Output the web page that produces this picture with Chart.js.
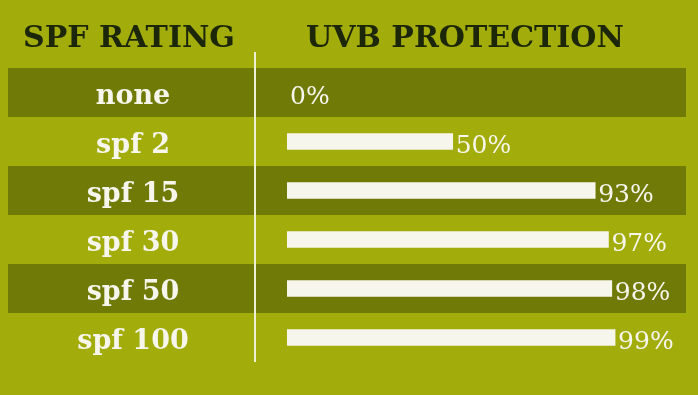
<!DOCTYPE html>
<html>
<head>
<meta charset="utf-8">
<script src="https://cdn.jsdelivr.net/npm/chart.js@4"></script>
<style>
  body { margin: 0; background: #a2ad0b; }
  #wrap { width: 698px; height: 395px; position: relative; }
</style>
</head>
<body>
<div id="wrap"><canvas id="uvb"></canvas></div>
<script>
const ratings = ['none', 'spf 2', 'spf 15', 'spf 30', 'spf 50', 'spf 100'];
const protection = [0, 50, 93, 97, 98, 99];
const headers = ['SPF RATING', 'UVB PROTECTION'];

const bg = '#a2ad0b';
const band = '#707b07';
const ink = '#1c270a';
const cream = '#f6f6ec';

// bands, header, divider and the text labels
const tablePlugin = {
    id: 'table',
    beforeDraw(chart) {
        const c = chart.ctx;
        const y = chart.scales.y;
        const step = y.getPixelForValue(1) - y.getPixelForValue(0);
        c.save();
        c.fillStyle = bg;
        c.fillRect(0, 0, chart.width, chart.height);
        ratings.forEach((r, i) => {
            if (i % 2 === 0) {
                const cy = y.getPixelForValue(i);
                c.fillStyle = band;
                c.fillRect(8, cy - step / 2, 678, step);
            }
        });
        // header
        c.fillStyle = ink;
        c.font = 'bold 30px "DejaVu Serif"';
        c.textAlign = 'center';
        c.textBaseline = 'alphabetic';
        c.fillText(headers[0], 129, 47);
        c.fillText(headers[1], 465, 47);
        // divider
        c.strokeStyle = '#eef0d4';
        c.lineWidth = 2;
        c.beginPath();
        c.moveTo(255, 52);
        c.lineTo(255, y.getPixelForValue(ratings.length - 1) + step / 2);
        c.stroke();
        // category labels
        c.fillStyle = cream;
        c.font = 'bold 27px "DejaVu Serif"';
        ratings.forEach((r, i) => {
            c.fillText(r, 133, y.getPixelForValue(i) + 11);
        });
        c.restore();
    },
    afterDatasetsDraw(chart) {
        const c = chart.ctx;
        const meta = chart.getDatasetMeta(0);
        c.save();
        c.fillStyle = cream;
        c.font = '25px "DejaVu Serif"';
        c.textAlign = 'left';
        c.textBaseline = 'middle';
        meta.data.forEach((bar, i) => {
            c.fillText(protection[i] + '%', bar.x + 3, bar.y + 5);
        });
        c.restore();
    }
};

new Chart(document.getElementById('uvb'), {
    type: 'bar',
    data: {
        labels: ratings,
        datasets: [{
            data: protection,
            backgroundColor: ctx => ctx.raw === 0 ? 'rgba(0,0,0,0)' : cream,
            borderWidth: 0,
            barThickness: 16
        }]
    },
    options: {
        indexAxis: 'y',
        responsive: true,
        maintainAspectRatio: false,
        animation: false,
        layout: { padding: { top: 68, bottom: 33, left: 287, right: 10 } },
        plugins: { legend: { display: false }, tooltip: { enabled: false } },
        scales: {
            x: { display: false, min: 0, max: 121 },
            y: { display: false }
        }
    },
    plugins: [tablePlugin]
});
</script>
</body>
</html>
